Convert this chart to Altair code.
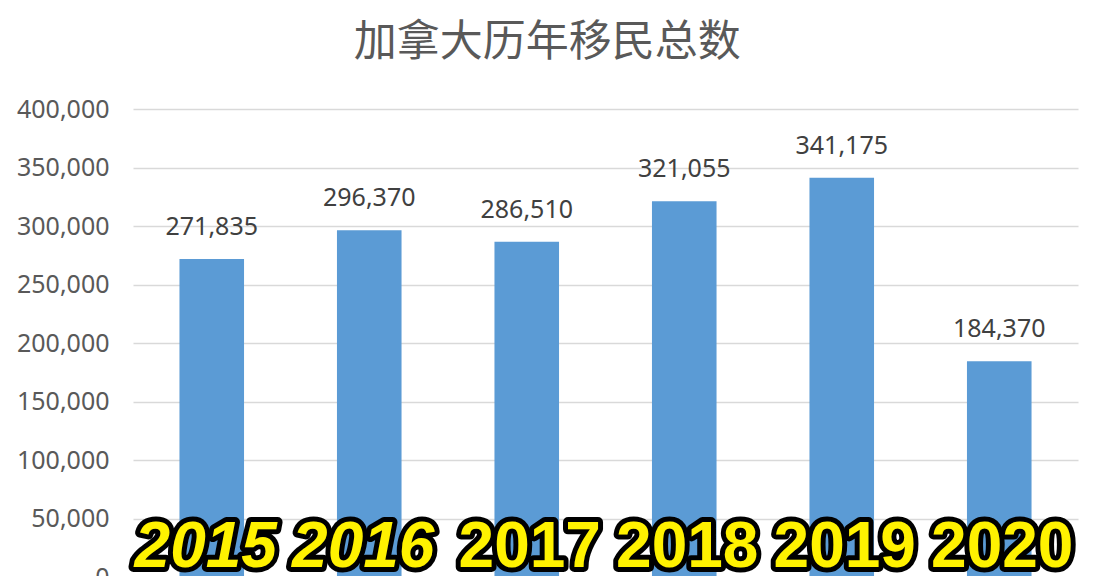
import altair as alt
import pandas as pd

years = ["2015", "2016", "2017", "2018", "2019", "2020"]
totals = [271835, 296370, 286510, 321055, 341175, 184370]
italic_years = ["2015", "2016"]
overlay_level = 24500

df = pd.DataFrame({
    "year": years,
    "total": totals,
    "label": [f"{v:,}" for v in totals],
    "italic": [y in italic_years for y in years],
    "level": [overlay_level] * len(years),
})

x = alt.X("year:N", sort=years,
          scale=alt.Scale(paddingInner=0.59, paddingOuter=0.295),
          axis=alt.Axis(labels=False, ticks=False, domain=False, title=None, grid=False))
yscale = alt.Scale(domain=[0, 400000], nice=False)

base = alt.Chart(df).encode(x=x)

bars = base.mark_bar(color="#5b9bd5").encode(
    y=alt.Y("total:Q", scale=yscale,
            axis=alt.Axis(title=None, values=list(range(0, 400001, 50000)), format=",d",
                          labelFont="Noto Sans", labelFontSize=25, labelColor="#595959",
                          labelPadding=24, domain=False, ticks=False,
                          gridColor="#d9d9d9", gridWidth=1.5))
)

labels = base.mark_text(font="Noto Sans", fontSize=25, color="#404040",
                        baseline="middle", dy=-32).encode(
    y=alt.Y("total:Q", scale=yscale), text="label:N"
)

def year_layer(italic, dx):
    sub = base.transform_filter(alt.datum.italic == italic)
    style = "italic" if italic else "normal"
    outline = sub.mark_text(font="Liberation Sans", fontSize=64, fontWeight="bold",
                            fontStyle=style, baseline="middle", dx=dx,
                            fill="black", stroke="black", strokeWidth=10,
                            strokeJoin="round").encode(
        y=alt.Y("level:Q", scale=yscale), text="year:N")
    fill = sub.mark_text(font="Liberation Sans", fontSize=64, fontWeight="bold",
                         fontStyle=style, baseline="middle", dx=dx,
                         fill="#fff200").encode(
        y=alt.Y("level:Q", scale=yscale), text="year:N")
    return outline + fill

chart = alt.layer(
    bars, labels, year_layer(True, -6), year_layer(False, 3)
).properties(
    width=945, height=468,
    background="white",
    padding={"left": 133, "top": 109, "right": 28, "bottom": 0},
    autosize=alt.AutoSizeParams(type="none"),
    title=alt.Title("加拿大历年移民总数", font="Noto Sans CJK SC", fontSize=43,
                    fontWeight="normal", color="#595959", frame="bounds",
                    anchor="middle", offset=32),
).configure_view(stroke=None)

chart.save("out.html", embed_options={"renderer": "svg", "actions": False})
